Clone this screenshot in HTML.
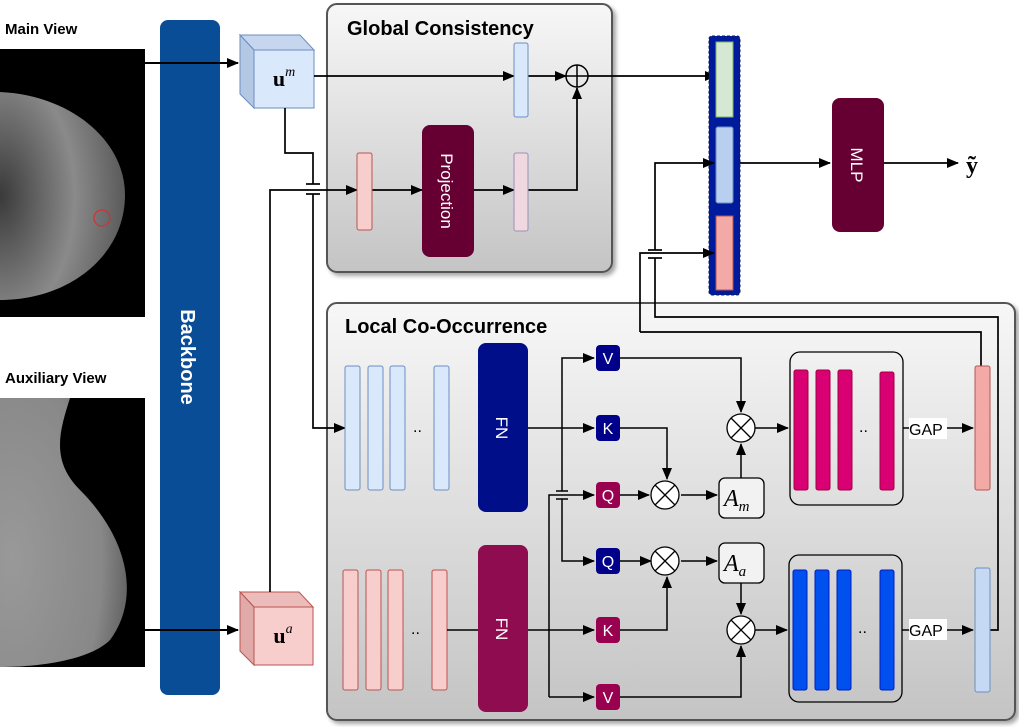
<!DOCTYPE html>
<html><head><meta charset="utf-8"><style>html,body{margin:0;padding:0;background:#fff}svg{display:block}</style></head><body>
<svg width="1019" height="727" viewBox="0 0 1019 727" xmlns="http://www.w3.org/2000/svg" font-family="Liberation Sans, sans-serif">
<defs>
<linearGradient id="gb" x1="0" y1="0" x2="0" y2="1"><stop offset="0" stop-color="#f7f7f7"/><stop offset="1" stop-color="#c4c4c4"/></linearGradient>
<radialGradient id="m1" cx="0" cy="0.5" r="1"><stop offset="0" stop-color="#3a3a3a"/><stop offset="0.6" stop-color="#8a8a8a"/><stop offset="1" stop-color="#5a5a5a"/></radialGradient>
<radialGradient id="m2" cx="0.1" cy="0.6" r="1"><stop offset="0" stop-color="#999"/><stop offset="0.7" stop-color="#888"/><stop offset="1" stop-color="#555"/></radialGradient>
<marker id="a" markerWidth="12" markerHeight="10" refX="11" refY="5" orient="auto" markerUnits="userSpaceOnUse"><path d="M0,0 L12,5 L0,10 Z" fill="#000"/></marker>
<filter id="sh"><feDropShadow dx="3" dy="3" stdDeviation="2" flood-opacity="0.35"/></filter>
</defs>
<!-- images -->
<text x="5" y="34" font-size="15" font-weight="bold">Main View</text>
<rect x="0" y="49" width="145" height="268" fill="#000"/>
<path d="M0,92 C70,95 125,140 125,195 C125,255 70,300 0,300 Z" fill="url(#m1)"/>
<circle cx="102" cy="218" r="8" fill="none" stroke="#c33" stroke-width="1.2"/>
<text x="5" y="383" font-size="15" font-weight="bold">Auxiliary View</text>
<rect x="0" y="398" width="145" height="269" fill="#000"/>
<path d="M0,398 L70,398 C60,430 50,460 80,490 C130,540 140,600 110,640 C90,660 40,667 0,667 Z" fill="url(#m2)"/>
<!-- backbone -->
<rect x="160" y="20" width="60" height="675" rx="8" fill="#0a4d97"/>
<text transform="translate(181,357) rotate(90)" font-size="20" font-weight="bold" fill="#fff" text-anchor="middle">Backbone</text>
<line x1="145" y1="63" x2="238" y2="63" stroke="#000" stroke-width="2" marker-end="url(#a)"/>
<line x1="145" y1="630" x2="238" y2="630" stroke="#000" stroke-width="2" marker-end="url(#a)"/>
<!-- boxes -->
<rect x="327" y="4" width="285" height="268" rx="10" fill="url(#gb)" stroke="#555" stroke-width="2" filter="url(#sh)"/>
<text x="347" y="35" font-size="20" font-weight="bold">Global Consistency</text>
<rect x="327" y="303" width="688" height="417" rx="10" fill="url(#gb)" stroke="#555" stroke-width="2" filter="url(#sh)"/>
<text x="345" y="333" font-size="20" font-weight="bold">Local Co-Occurrence</text>
<!-- cubes -->
<g stroke="#6c8ebf" stroke-width="1">
<path d="M240,35 L300,35 L314,50 L254,50 Z" fill="#c5d6ee"/>
<path d="M240,35 L254,50 L254,108 L240,94 Z" fill="#b4c8e4"/>
<rect x="254" y="50" width="60" height="58" fill="#dae8fc"/>
</g>
<text x="284" y="86" font-size="22" font-weight="bold" font-family="Liberation Serif, serif" text-anchor="middle">u<tspan font-size="14" dy="-10" font-style="italic" font-weight="normal">m</tspan></text>
<g stroke="#b85450" stroke-width="1">
<path d="M240,592 L299,592 L313,607 L254,607 Z" fill="#ecbcba"/>
<path d="M240,592 L254,607 L254,665 L240,651 Z" fill="#e0aaa8"/>
<rect x="254" y="607" width="59" height="58" fill="#f8cecc"/>
</g>
<text x="283" y="643" font-size="22" font-weight="bold" font-family="Liberation Serif, serif" text-anchor="middle">u<tspan font-size="14" dy="-10" font-style="italic" font-weight="normal">a</tspan></text>
<!-- global -->
<g fill="none" stroke="#000" stroke-width="1.7">
<line x1="314" y1="76" x2="514" y2="76" marker-end="url(#a)"/>
<line x1="528" y1="76" x2="566" y2="76" marker-end="url(#a)"/>
<line x1="588" y1="76" x2="716" y2="76" marker-end="url(#a)"/>
<path d="M528,190 L577,190 L577,88" marker-end="url(#a)"/>
<line x1="372" y1="190" x2="422" y2="190" marker-end="url(#a)"/>
<line x1="474" y1="190" x2="514" y2="190" marker-end="url(#a)"/>
<path d="M285,108 L285,153 L313,153 L313,184"/>
<path d="M313,194 L313,428 L345,428" marker-end="url(#a)"/>
<path d="M270,592 L270,190 L357,190" marker-end="url(#a)"/>
<line x1="306" y1="184" x2="320" y2="184"/><line x1="306" y1="194" x2="320" y2="194"/>
</g>
<circle cx="577" cy="76" r="11" fill="none" stroke="#000" stroke-width="1.5"/>
<path d="M566,76 H588 M577,65 V87" stroke="#000" stroke-width="1.5"/>
<rect x="514" y="43" width="14" height="74" rx="2" fill="#dae8fc" stroke="#6c8ebf"/>
<rect x="357" y="153" width="15" height="77" rx="2" fill="#f8cecc" stroke="#b85450"/>
<rect x="514" y="153" width="14" height="78" rx="2" fill="#f0d8e0" stroke="#9a8fb5"/>
<rect x="422" y="125" width="52" height="132" rx="8" fill="#660033"/>
<text transform="translate(441,191) rotate(90)" font-size="17" fill="#fff" text-anchor="middle">Projection</text>
<!-- concat -->
<rect x="709" y="36" width="31" height="259" rx="3" fill="#001a9c" stroke="#0a1a60" stroke-dasharray="3,2"/>
<rect x="716" y="42" width="17" height="75" fill="#d5e8d4" stroke="#82b366"/>
<rect x="716" y="127" width="17" height="76" rx="2" fill="#b8cff0" stroke="#6c8ebf"/>
<rect x="716" y="216" width="17" height="74" fill="#f3a9a6" stroke="#b85450"/>
<g fill="none" stroke="#000" stroke-width="1.7">
<line x1="740" y1="163" x2="830" y2="163" marker-end="url(#a)"/>
<line x1="884" y1="163" x2="958" y2="163" marker-end="url(#a)"/>
<path d="M655,250 L655,163 L714,163" marker-end="url(#a)"/>
<path d="M655,258 L655,317 L998,317 L998,630 L990,630"/>
<path d="M640,332 L640,253 L714,253" marker-end="url(#a)"/>
<path d="M640,332 L981,332 L981,366"/>
<line x1="648" y1="250" x2="662" y2="250"/><line x1="648" y1="258" x2="662" y2="258"/>
</g>
<rect x="832" y="98" width="52" height="134" rx="8" fill="#660033"/>
<text transform="translate(851,165) rotate(90)" font-size="17" fill="#fff" text-anchor="middle">MLP</text>
<text x="966" y="173" font-size="24" font-weight="bold" font-family="Liberation Serif, serif">ỹ</text>
<!-- local bars -->
<g fill="#dae8fc" stroke="#6c8ebf">
<rect x="345" y="366" width="15" height="124" rx="2"/><rect x="368" y="366" width="15" height="124" rx="2"/><rect x="390" y="366" width="15" height="124" rx="2"/><rect x="434" y="366" width="15" height="124" rx="2"/>
</g>
<text x="413" y="432" font-size="16">..</text>
<g fill="#f8cecc" stroke="#b85450">
<rect x="343" y="570" width="15" height="120" rx="2"/><rect x="366" y="570" width="15" height="120" rx="2"/><rect x="388" y="570" width="15" height="120" rx="2"/><rect x="432" y="570" width="15" height="120" rx="2"/>
</g>
<text x="411" y="634" font-size="16">..</text>
<rect x="478" y="343" width="50" height="169" rx="8" fill="#000e8a"/>
<text transform="translate(496,428) rotate(90)" font-size="17" fill="#fff" text-anchor="middle">FN</text>
<rect x="478" y="545" width="50" height="167" rx="8" fill="#8e0c4f"/>
<text transform="translate(496,629) rotate(90)" font-size="17" fill="#fff" text-anchor="middle">FN</text>
<!-- attention lines -->
<g fill="none" stroke="#000" stroke-width="1.5">
<line x1="447" y1="630" x2="478" y2="630"/>
<line x1="528" y1="428" x2="594" y2="428" marker-end="url(#a)"/>
<line x1="528" y1="630" x2="594" y2="630" marker-end="url(#a)"/>
<path d="M562,491 L562,358 L594,358" marker-end="url(#a)"/>
<path d="M562,499 L562,561 L594,561" marker-end="url(#a)"/>
<path d="M549,697 L549,495 L594,495" marker-end="url(#a)"/>
<line x1="549" y1="697" x2="594" y2="697" marker-end="url(#a)"/>
<line x1="556" y1="491" x2="568" y2="491"/><line x1="556" y1="499" x2="568" y2="499"/>
<path d="M620,358 L741,358 L741,412" marker-end="url(#a)"/>
<path d="M620,428 L667,428 L667,479" marker-end="url(#a)"/>
<line x1="620" y1="495" x2="649" y2="495" marker-end="url(#a)"/>
<line x1="681" y1="495" x2="717" y2="495" marker-end="url(#a)"/>
<line x1="741" y1="478" x2="741" y2="444" marker-end="url(#a)"/>
<line x1="755" y1="428" x2="788" y2="428" marker-end="url(#a)"/>
<line x1="620" y1="561" x2="651" y2="561" marker-end="url(#a)"/>
<line x1="681" y1="561" x2="717" y2="561" marker-end="url(#a)"/>
<path d="M620,630 L667,630 L667,577" marker-end="url(#a)"/>
<line x1="741" y1="583" x2="741" y2="614" marker-end="url(#a)"/>
<path d="M620,697 L741,697 L741,646" marker-end="url(#a)"/>
<line x1="755" y1="630" x2="787" y2="630" marker-end="url(#a)"/>
<line x1="903" y1="428" x2="910" y2="428"/>
<line x1="946" y1="428" x2="973" y2="428" marker-end="url(#a)"/>
<line x1="902" y1="630" x2="910" y2="630"/>
<line x1="946" y1="630" x2="973" y2="630" marker-end="url(#a)"/>
</g>
<g fill="#fff" stroke="#000" stroke-width="1.3">
<circle cx="665" cy="495" r="14"/><circle cx="741" cy="428" r="14"/><circle cx="665" cy="561" r="14"/><circle cx="741" cy="630" r="14"/>
</g>
<g stroke="#000" stroke-width="1.3">
<path d="M655,485 L675,505 M675,485 L655,505"/><path d="M731,418 L751,438 M751,418 L731,438"/>
<path d="M655,551 L675,571 M675,551 L655,571"/><path d="M731,620 L751,640 M751,620 L731,640"/>
</g>
<rect x="719" y="478" width="45" height="40" rx="6" fill="#f2f2f2" stroke="#000" stroke-width="1.3"/>
<text x="724" y="506" font-size="24" font-style="italic" font-family="Liberation Serif, serif">A<tspan font-size="15" dy="5">m</tspan></text>
<rect x="719" y="543" width="45" height="40" rx="6" fill="#f2f2f2" stroke="#000" stroke-width="1.3"/>
<text x="724" y="571" font-size="24" font-style="italic" font-family="Liberation Serif, serif">A<tspan font-size="15" dy="5">a</tspan></text>
<g font-size="16" fill="#fff" text-anchor="middle">
<rect x="596" y="345" width="24" height="26" rx="4" fill="#00008b"/><text x="608" y="364">V</text>
<rect x="596" y="415" width="24" height="26" rx="4" fill="#00008b"/><text x="608" y="434">K</text>
<rect x="596" y="482" width="24" height="26" rx="4" fill="#990050"/><text x="608" y="501">Q</text>
<rect x="596" y="548" width="24" height="26" rx="4" fill="#00008b"/><text x="608" y="567">Q</text>
<rect x="596" y="617" width="24" height="26" rx="4" fill="#990050"/><text x="608" y="636">K</text>
<rect x="596" y="684" width="24" height="26" rx="4" fill="#990050"/><text x="608" y="703">V</text>
</g>
<rect x="790" y="352" width="113" height="153" rx="10" fill="none" stroke="#000" stroke-width="1.3"/>
<g fill="#d80073" stroke="#a50040">
<rect x="794" y="370" width="14" height="120" rx="2"/><rect x="816" y="370" width="14" height="120" rx="2"/><rect x="838" y="370" width="14" height="120" rx="2"/><rect x="880" y="372" width="14" height="118" rx="2"/>
</g>
<text x="859" y="432" font-size="16">..</text>
<rect x="789" y="555" width="113" height="147" rx="10" fill="none" stroke="#000" stroke-width="1.3"/>
<g fill="#0050ef" stroke="#001dbc">
<rect x="793" y="570" width="14" height="120" rx="2"/><rect x="815" y="570" width="14" height="120" rx="2"/><rect x="837" y="570" width="14" height="120" rx="2"/><rect x="880" y="570" width="14" height="120" rx="2"/>
</g>
<text x="858" y="633" font-size="16">..</text>
<rect x="909" y="418" width="38" height="21" fill="#fff"/><text x="909" y="435" font-size="16">GAP</text>
<rect x="909" y="619" width="38" height="21" fill="#fff"/><text x="909" y="636" font-size="16">GAP</text>
<rect x="975" y="366" width="15" height="124" rx="2" fill="#f3a9a6" stroke="#b85450"/>
<rect x="975" y="568" width="15" height="124" rx="2" fill="#c6d9f4" stroke="#6c8ebf"/>
</svg>
</body></html>
